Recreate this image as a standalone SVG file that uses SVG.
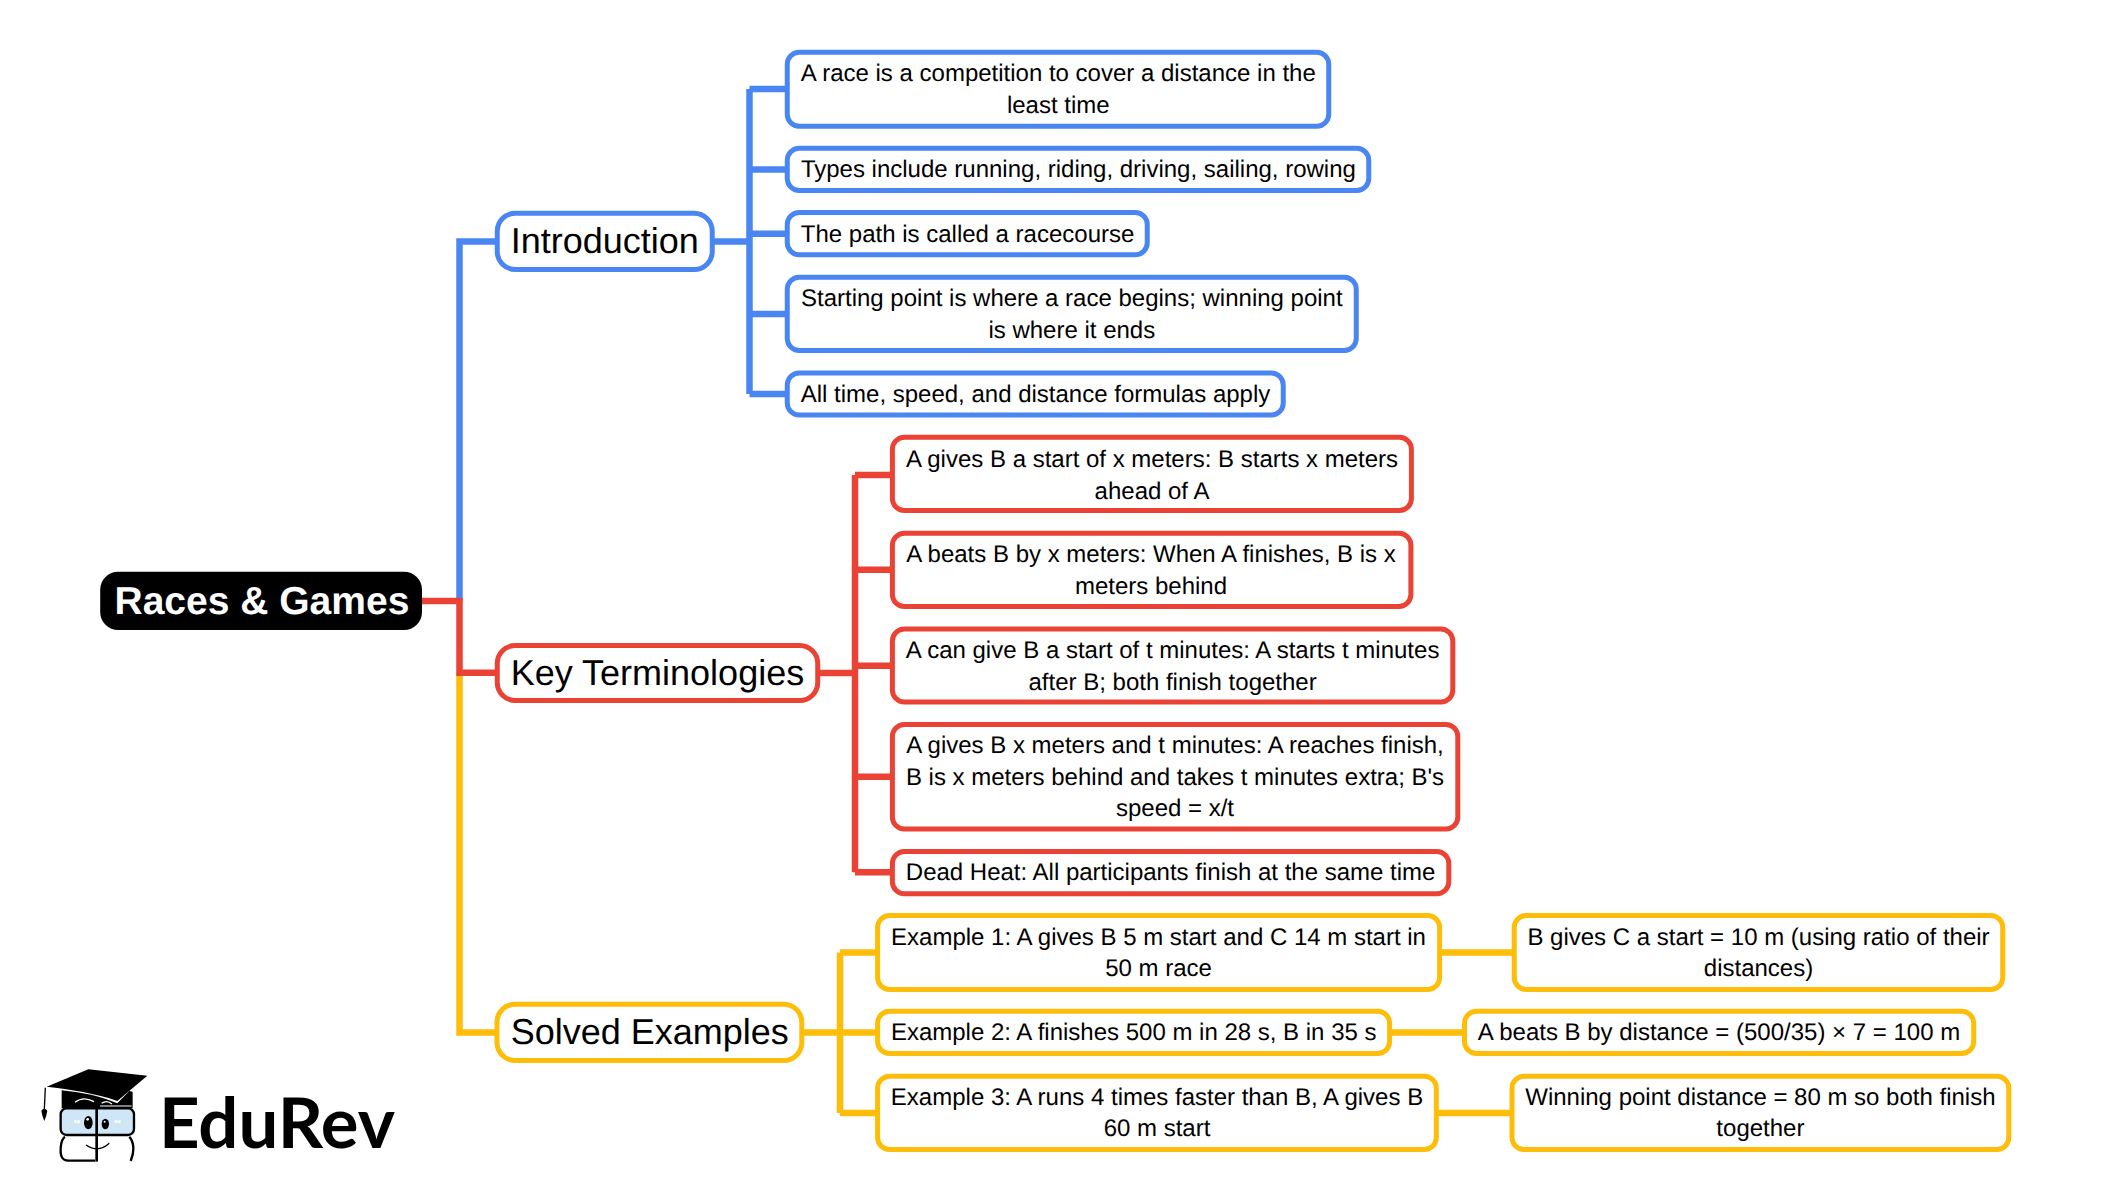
<svg xmlns="http://www.w3.org/2000/svg" width="2111" height="1202" viewBox="0 0 2111 1202">
<style>
text{font-family:"Liberation Sans",Arial,sans-serif;fill:#000;text-rendering:geometricPrecision}
.leaf text{font-size:24px;text-anchor:middle}
.l1 text{font-size:36px}
.box{fill:#fff;stroke-width:5}
.l1 .box{rx:18px}
.leaf .box{rx:12px}
.c{fill:none;stroke-width:6.5}
.b{stroke:#4a86f2}.r{stroke:#ea4335}.y{stroke:#fdbd08}
</style>
<rect width="2111" height="1202" fill="#fff"/>
<g id="connectors">
<path class="c y" d="M459.5 672.7V1032.5H497M804 1032.5H840M840 952.5V1113M840 952.5H877M840 1032.5H877M840 1113H877M1440 952.5H1514M1390 1032.5H1464M1437 1113H1512"/>
<path class="c b" d="M459.5 601V241.5H497M712 241.5H749.5M749.5 89V394M749.5 89H787M749.5 169.5H787M749.5 233.7H787M749.5 314H787M749.5 394H787"/>
<path class="c r" d="M420 601H459.5V672.7H497M820 673H855M855 475V872.3M855 475H892M855 569.7H892M855 665.7H892M855 776.7H892M855 872.3H892"/>
</g>
<g id="root"><rect x="100.2" y="571.7" width="321.8" height="58.3" rx="18" fill="#000"/><text x="114.5" y="613.7" font-size="39" font-weight="700" style="fill:#fff">Races &amp; Games</text></g>
<g id="intro" class="l1"><rect class="box b" x="497.25" y="213.25" width="215" height="56.2"/><text x="510.7" y="253.3">Introduction</text></g>
<g id="key" class="l1"><rect class="box r" x="497.25" y="645.5" width="320.5" height="55"/><text x="510.7" y="685">Key Terminologies</text></g>
<g id="solved" class="l1"><rect class="box y" x="497" y="1004.25" width="304.8" height="56.2"/><text x="510.7" y="1044.3">Solved Examples</text></g>
<g id="b1" class="leaf"><rect class="box b" x="787.25" y="52.25" width="541.5" height="74"/><text x="1058.3" y="80.8">A race is a competition to cover a distance in the</text><text x="1058.3" y="112.8">least time</text></g>
<g id="b2" class="leaf"><rect class="box b" x="787.25" y="148.25" width="581.5" height="42.2"/><text x="1078.4" y="177.3">Types include running, riding, driving, sailing, rowing</text></g>
<g id="b3" class="leaf"><rect class="box b" x="787.25" y="212.5" width="360" height="42.2"/><text x="967.6" y="241.5">The path is called a racecourse</text></g>
<g id="b4" class="leaf"><rect class="box b" x="787.25" y="277.25" width="569" height="73.2"/><text x="1071.8" y="305.8">Starting point is where a race begins; winning point</text><text x="1071.8" y="337.8">is where it ends</text></g>
<g id="b5" class="leaf"><rect class="box b" x="787.25" y="373" width="496" height="42"/><text x="1035.5" y="401.8">All time, speed, and distance formulas apply</text></g>
<g id="r1" class="leaf"><rect class="box r" x="892.4" y="437.25" width="519" height="73.2"/><text x="1152" y="466.6">A gives B a start of x meters: B starts x meters</text><text x="1152" y="498.6">ahead of A</text></g>
<g id="r2" class="leaf"><rect class="box r" x="892.4" y="533.25" width="518.5" height="73.2"/><text x="1151" y="561.6">A beats B by x meters: When A finishes, B is x</text><text x="1151" y="593.6">meters behind</text></g>
<g id="r3" class="leaf"><rect class="box r" x="892.4" y="629" width="560.4" height="73"/><text x="1172.6" y="657.6">A can give B a start of t minutes: A starts t minutes</text><text x="1172.6" y="689.6">after B; both finish together</text></g>
<g id="r4" class="leaf"><rect class="box r" x="892.4" y="724.5" width="565.4" height="104.5"/><text x="1175" y="752.8">A gives B x meters and t minutes: A reaches finish,</text><text x="1175" y="784.8">B is x meters behind and takes t minutes extra; B's</text><text x="1175" y="816.4">speed = x/t</text></g>
<g id="r5" class="leaf"><rect class="box r" x="892.4" y="851.5" width="556.4" height="42.2"/><text x="1170.6" y="880">Dead Heat: All participants finish at the same time</text></g>
<g id="e1" class="leaf"><rect class="box y" x="877.6" y="915.5" width="562" height="74"/><text x="1158.5" y="944.5">Example 1: A gives B 5 m start and C 14 m start in</text><text x="1158.5" y="976.2">50 m race</text></g>
<g id="e2" class="leaf"><rect class="box y" x="877.6" y="1011.25" width="512" height="42.2"/><text x="1133.7" y="1040.2">Example 2: A finishes 500 m in 28 s, B in 35 s</text></g>
<g id="e3" class="leaf"><rect class="box y" x="877.6" y="1076.25" width="558.7" height="73.2"/><text x="1157" y="1104.5">Example 3: A runs 4 times faster than B, A gives B</text><text x="1157" y="1136.2">60 m start</text></g>
<g id="s1" class="leaf"><rect class="box y" x="1514.25" y="915.5" width="488.5" height="74"/><text x="1758.5" y="944.5">B gives C a start = 10 m (using ratio of their</text><text x="1758.5" y="976.2">distances)</text></g>
<g id="s2" class="leaf"><rect class="box y" x="1464.5" y="1011.25" width="509.2" height="42.2"/><text x="1719" y="1040.2">A beats B by distance = (500/35) × 7 = 100 m</text></g>
<g id="s3" class="leaf"><rect class="box y" x="1512" y="1076.25" width="496.8" height="73.2"/><text x="1760.4" y="1104.5">Winning point distance = 80 m so both finish</text><text x="1760.4" y="1136.2">together</text></g>
<g id="logo">
<g transform="translate(0 1040) scale(.3333)">
<path d="M140 140L265 88L442 107L352 183C290 160 210 148 140 140Z" fill="#000"/>
<path d="M185 151C250 158 300 168 352 190L388 153L398 155V205H185Z" fill="#000"/>
<path d="M225 187Q250 167 282 185M305 190Q320 179 336 192" fill="none" stroke="#fff" stroke-width="4"/>
<path d="M136 143L133 207" fill="none" stroke="#000" stroke-width="4"/>
<path d="M124 212Q133 200 142 212Q140 226 133 243Q126 226 124 212Z" fill="#000"/>
<rect x="182" y="205" width="220" height="80" rx="18" fill="#cfe6f6" stroke="#000" stroke-width="7"/>
<path d="M290 200V365" fill="none" stroke="#000" stroke-width="8"/>
<path d="M300 198H395" stroke="#fff" stroke-width="3"/>
<ellipse cx="265" cy="248" rx="13" ry="20" fill="#000"/><ellipse cx="316" cy="252" rx="11" ry="16" fill="#000"/>
<circle cx="263" cy="238" r="4" fill="#fff"/><circle cx="314" cy="245" r="3" fill="#fff"/>
<path d="M222 245H240M344 245H362" stroke="#fff" stroke-width="8" stroke-dasharray="8 2"/>
<path d="M195 290C180 300 180 340 185 350Q190 362 205 362H285M388 290C405 310 402 340 392 363" fill="none" stroke="#000" stroke-width="7"/>
<path d="M258 315Q295 340 328 310" fill="none" stroke="#000" stroke-width="4"/>
</g>
<text x="159" y="1148" font-size="70" font-weight="700" textLength="236" lengthAdjust="spacingAndGlyphs" style="font-family:Lato,'Noto Sans',sans-serif">EduRev</text>
</g>
</svg>
